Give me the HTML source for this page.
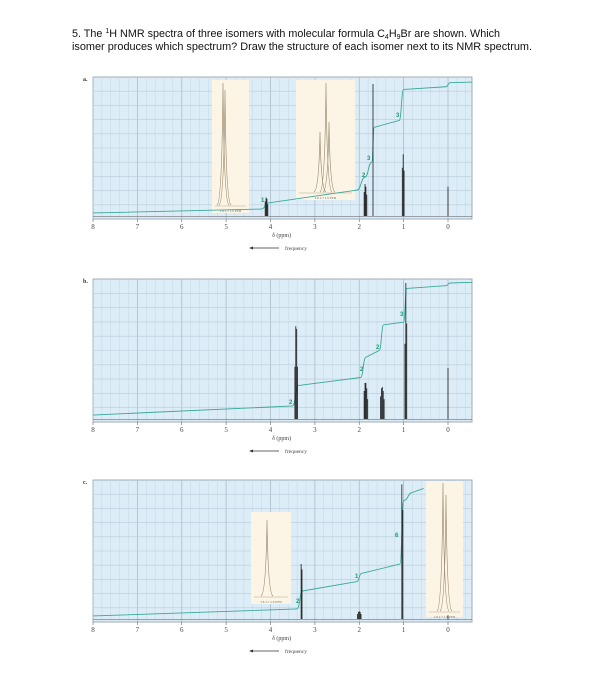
<!DOCTYPE html>
<html><head><meta charset="utf-8"><style>
html,body{margin:0;padding:0;background:#fff;width:603px;height:700px;overflow:hidden}
svg{display:block}
</style></head><body>
<svg id="s" width="603" height="700" xmlns="http://www.w3.org/2000/svg">
<text x="72" y="37" font-family="Liberation Sans, sans-serif" font-size="10.8" fill="#111" textLength="428" lengthAdjust="spacingAndGlyphs">5. The <tspan font-size="7" dy="-4">1</tspan><tspan dy="4">H NMR spectra of three isomers with molecular formula C</tspan><tspan font-size="7" dy="2">4</tspan><tspan dy="-2">H</tspan><tspan font-size="7" dy="2">9</tspan><tspan dy="-2">Br are shown. Which</tspan></text>
<text x="72" y="50" font-family="Liberation Sans, sans-serif" font-size="10.8" fill="#111" textLength="460" lengthAdjust="spacingAndGlyphs">isomer produces which spectrum? Draw the structure of each isomer next to its NMR spectrum.</text>
</svg>
<script>
// ---- data (ppm, relative intensity 0-100) ----
var tickLabels = ["8","7","6","5","4","3","2","1","0"];
var peaksA_ppm = [4.12,4.10,4.08,4.06,1.89,1.87,1.85,1.83,1.69,1.03,1.01,0.99,0.0];
var peaksA_h   = [10,13,12,8,17,23,21,15,97,35,45,33,21];
var intA_ppm = [8,4.2,4.05,2.05,1.87,1.72,1.66,1.1,1.0,0.05,-0.05,-0.55];
var intA_val = [1.5,4.4,8.9,18.5,28,39,65,70,93,95,98,98.5];
var peaksB_ppm = [3.45,3.43,3.41,3.39,1.89,1.87,1.85,1.83,1.81,1.52,1.50,1.48,1.46,1.44,0.97,0.95,0.93,0.0];
var peaksB_h   = [38,68,66,38,20,26,26,22,14,16,22,23,20,14,55,100,70,37];
var intB_ppm = [8,3.5,3.38,1.97,1.85,1.55,1.45,1.0,0.93,0.05,-0.05,-0.55];
var intB_val = [2.2,8.9,24,30,45,50,69,71,96,98,100,100.5];
var peaksC_ppm = [3.31,3.29,2.04,2.02,2.0,1.98,1.96,1.04,1.02,0.0];
var peaksC_h   = [40,36,3,4.5,5,4.5,3,99,80,2];
var intC_ppm = [8,3.4,3.28,2.05,1.95,1.08,1.0,0.8,0.55];
var intC_val = [1.5,6.7,20,27,33,40,87,93,96];

var NS='http://www.w3.org/2000/svg', svg=document.getElementById('s');
function mk(tag,attrs,parent){var e=document.createElementNS(NS,tag);for(var k in attrs)e.setAttribute(k,attrs[k]);(parent||svg).appendChild(e);return e;}
var X0=448, PX=44.375, LEFT=93, RIGHT=472;
function xs(p){return X0-p*PX;}

function panel(name,top,bottom,letter,pp,ph,ip,iv,labels,insets){
  var g=mk('g',{});
  
  
  var base=bottom-4, sc=135/100;
  function ys(v){return base-v*sc;}
  var bg=mk('rect',{x:LEFT,y:top,width:RIGHT-LEFT,height:bottom-top,fill:'#dcedf7',stroke:'#8a9aa8','stroke-width':0.8},g);
  
  
  for(var p=8;p>=-0.5;p-=0.2){var x=xs(p);if(x>RIGHT-0.5)break;var maj=Math.abs(p-Math.round(p))<0.01;
    mk('line',{x1:x,x2:x,y1:top,y2:bottom,stroke:maj?'#a9bccb':'#c3d6e4','stroke-width':maj?0.8:0.5},g);}
  var rows=10;for(var r=1;r<rows;r++){var y=top+(bottom-top)*r/rows;mk('line',{x1:LEFT,x2:RIGHT,y1:y,y2:y,stroke:'#b7cada','stroke-width':0.6},g);}
  mk('line',{x1:LEFT,x2:RIGHT,y1:base+1.5,y2:base+1.5,stroke:'#555','stroke-width':0.6},g);
  insets.forEach(function(ins,i){
    var r=mk('rect',{x:ins[0],y:ins[1],width:ins[2]-ins[0],height:ins[3]-ins[1],fill:'#fcf5e6'},g);
    
    
    mk('line',{x1:ins[0]+3,x2:ins[2]-3,y1:ins[4],y2:ins[4],stroke:'#b5a98f','stroke-width':0.6},g);
    for(var k=0;k<ins[5].length;k++){var pk=ins[5][k];
      mk('path',{d:'M'+(pk[0]-6)+','+(ins[4]-1)+' Q'+(pk[0]-1)+','+(ins[4]-3)+' '+pk[0]+','+pk[1]+' Q'+(pk[0]+1)+','+(ins[4]-3)+' '+(pk[0]+6)+','+(ins[4]-1),fill:'none',stroke:'#9c8e74','stroke-width':0.7},g);}
    var t=mk('text',{x:(ins[0]+ins[2])/2,y:ins[4]+6,'font-size':3,'text-anchor':'middle',fill:'#777','font-family':'Liberation Sans, sans-serif'},g);t.textContent='1.8   1.7   1.6  PPM';
  });
  // integral: linear drift on long segments, S-curve on steps
  var d='';for(var i=0;i<ip.length;i++){var x=xs(ip[i]),y=ys(iv[i]);
    if(i==0)d='M'+x+','+y;
    else if(Math.abs(ip[i]-ip[i-1])>0.2){d+=' L'+x+','+y;}
    else{var px=xs(ip[i-1]);var mx=(px+x)/2;d+=' C'+mx+','+ys(iv[i-1])+' '+mx+','+y+' '+x+','+y;}}
  var il=mk('path',{d:d,fill:'none',stroke:'#3aa89a','stroke-width':0.9},g);
  
  
  for(var j=0;j<pp.length;j++){var x=xs(pp[j]);
    var pl=mk('line',{x1:x,x2:x,y1:base+1,y2:ys(ph[j]),stroke:'#1a1a1a','stroke-width':0.8},g);
    
    }
  labels.forEach(function(l){var t=mk('text',{x:l[0],y:l[1],'font-size':6,fill:'#1e9a6a','font-family':'Liberation Sans, sans-serif','font-weight':'bold'},g);t.textContent=l[2];
    
    });
  var lt=mk('text',{x:83,y:top+4,'font-size':6,fill:'#333','font-family':'Liberation Serif, serif','font-weight':'bold'},g);lt.textContent=letter;
  
  
  for(var t2=0;t2<tickLabels.length;t2++){var v=8-t2,x=xs(v);
    mk('line',{x1:x,x2:x,y1:bottom,y2:bottom+3,stroke:'#666','stroke-width':0.6},g);
    var tl=mk('text',{x:x,y:bottom+10,'font-size':7,'text-anchor':'middle',fill:'#444','font-family':'Liberation Serif, serif'},g);tl.textContent=tickLabels[t2];
    
    }
  var at=mk('text',{x:xs(3.75),y:bottom+18,'font-size':6,'text-anchor':'middle',fill:'#444','font-family':'Liberation Serif, serif'},g);at.textContent='δ (ppm)';
  
  
  mk('line',{x1:251,x2:279,y1:bottom+29,y2:bottom+29,stroke:'#333','stroke-width':0.7},g);
  mk('path',{d:'M249,'+(bottom+29)+' l4,-1.5 v3 z',fill:'#333'},g);
  var ft=mk('text',{x:285,y:bottom+31,'font-size':5.5,fill:'#444','font-family':'Liberation Serif, serif'},g);ft.textContent='frequency';
  
  
}
panel('a',77,219,'a.',peaksA_ppm,peaksA_h,intA_ppm,intA_val,
  [[261,202,'1'],[362,177,'2'],[367,160,'3'],[396,117,'3']],
  [[212,80,249,213,206,[[223,83],[225,90]]],[296,80,355,200,193,[[320,132],[326,83],[329,122]]]]);
panel('b',279,422,'b.',peaksB_ppm,peaksB_h,intB_ppm,intB_val,
  [[289,404,'2'],[360,371,'2'],[376,349,'2'],[400,316,'3']],[]);
panel('c',480,622,'c.',peaksC_ppm,peaksC_h,intC_ppm,intC_val,
  [[296,603,'2'],[355,578,'1'],[395,537,'6']],
  [[251,512,291,604,597,[[267,520]]],[426,481,463,617,612,[[443,483],[446,495]]]]);
</script>
</body></html>
